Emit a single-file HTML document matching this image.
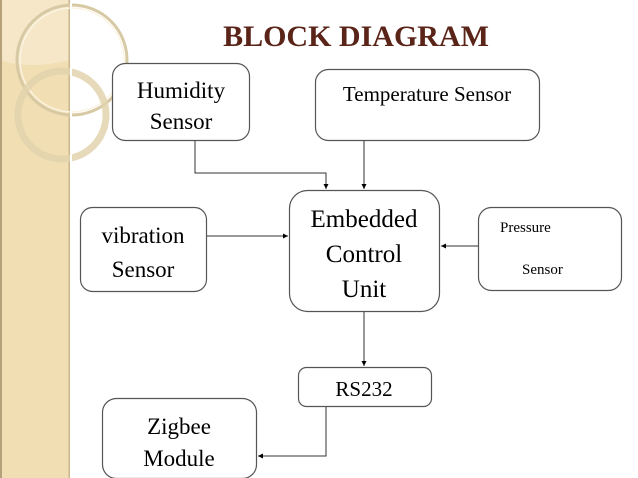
<!DOCTYPE html>
<html><head><meta charset="utf-8"><style>
html,body{margin:0;padding:0;background:#fff;}
svg{display:block;}
text{font-family:"Liberation Serif",serif;fill:#000;}
</style></head><body>
<svg width="638" height="478" viewBox="0 0 638 478" xmlns="http://www.w3.org/2000/svg">
<defs>
<marker id="a" markerWidth="6" markerHeight="6" refX="5" refY="3" orient="auto" markerUnits="userSpaceOnUse"><path d="M0,0.5 L5,3 L0,5.5 z" fill="#000"/></marker>
</defs>
<rect x="0" y="0" width="70" height="478" fill="#f1dfb3"/>
<path d="M0,0 H70 V60 Q30,70 0,60 Z" fill="#f6ead0" opacity="0.7"/>
<line x1="1" y1="0" x2="1" y2="478" stroke="#b5a079" stroke-width="2"/>
<line x1="69.5" y1="0" x2="69.5" y2="478" stroke="#c9b68e" stroke-width="2"/>
<circle cx="72" cy="60" r="55" fill="none" stroke="#d8c9a5" stroke-width="3"/>
<circle cx="72" cy="60" r="52" fill="none" stroke="#fbf4e2" stroke-width="1.5"/>
<circle cx="62" cy="115" r="44" fill="none" stroke="#e2d3ae" stroke-width="7" opacity="0.85"/>
<rect x="70" y="0" width="2" height="478" fill="#fff"/>

<text x="356" y="46" text-anchor="middle" font-size="30" font-weight="bold" style="fill:#5a2418">BLOCK DIAGRAM</text>

<g fill="#fff" stroke="#555" stroke-width="1.2">
<rect x="112.5" y="63.5" width="137" height="77" rx="13"/>
<rect x="315.5" y="69.5" width="224" height="71" rx="13"/>
<rect x="289.5" y="190.5" width="150" height="121" rx="18"/>
<rect x="80.5" y="207.5" width="126" height="84" rx="12"/>
<rect x="478.5" y="207.5" width="143" height="83" rx="13"/>
<rect x="298.5" y="367.5" width="133" height="39" rx="8"/>
<rect x="102.5" y="398.5" width="154" height="80" rx="14"/>
</g>

<g stroke="#333" stroke-width="1" fill="none">
<polyline points="195,141 195,173 326,173 326,189" marker-end="url(#a)"/>
<line x1="364" y1="141" x2="364" y2="189" marker-end="url(#a)"/>
<line x1="207" y1="236" x2="288" y2="236" marker-end="url(#a)"/>
<line x1="478" y1="246" x2="441" y2="246" marker-end="url(#a)"/>
<line x1="364" y1="312" x2="364" y2="366" marker-end="url(#a)"/>
<polyline points="326,407 326,456 258,456" marker-end="url(#a)"/>
</g>

<g font-size="23" text-anchor="middle">
<text x="181" y="98">Humidity</text>
<text x="181" y="129">Sensor</text>
<text x="427" y="101" font-size="21">Temperature Sensor</text>
<text x="364" y="227" font-size="25">Embedded</text>
<text x="364" y="262" font-size="25">Control</text>
<text x="364" y="297" font-size="25">Unit</text>
<text x="143" y="243">vibration</text>
<text x="143" y="277">Sensor</text>
<text x="364" y="396" font-size="21">RS232</text>
<text x="179" y="434">Zigbee</text>
<text x="179" y="466">Module</text>
</g>
<text x="500" y="232" font-size="15">Pressure</text>
<text x="522" y="274" font-size="15">Sensor</text>
</svg>
</body></html>
